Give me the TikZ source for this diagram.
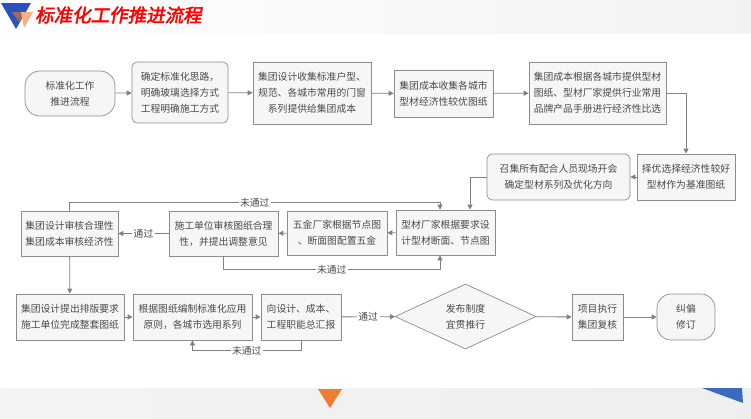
\documentclass[tikz,border=0pt]{standalone}
\usepackage{fontspec}
\newfontfamily\cjk{Noto Sans CJK SC}
\newfontfamily\cjktitle[FakeBold=2.5,FakeSlant=0.18]{Noto Sans CJK SC}
\usetikzlibrary{positioning, arrows.meta, calc, shapes.geometric}
\definecolor{boxline}{HTML}{8C8C8C}
\definecolor{boxfill}{HTML}{F6F6F6}
\definecolor{boxtext}{HTML}{4A4A4A}
\definecolor{lnclr}{HTML}{808080}
\definecolor{logoblue}{HTML}{2A52BE}
\definecolor{logobrown}{HTML}{9B6B5A}
\definecolor{logopeach}{HTML}{F4B183}
\definecolor{accorange}{HTML}{ED7D31}
\definecolor{accblue}{HTML}{3A6BC0}

\begin{document}
\begin{tikzpicture}[x=1pt, y=-1pt,
  font=\cjk\fontsize{9.8}{16}\selectfont,
  stepbox/.style={draw=boxline, fill=boxfill, text=boxtext, align=center,
    inner sep=2pt, line width=0.7pt},
  softbox/.style={stepbox, rounded corners=5pt},
  endbox/.style={stepbox, rounded corners=15pt},
  decbox/.style={stepbox, diamond, aspect=2.17, inner sep=0pt},
  wh/.style 2 args={minimum width=#1pt, minimum height=#2pt},
  ln/.style={draw=lnclr, line width=0.8pt, -{Triangle[length=5pt, width=5pt]}},
  lbl/.style={fill=white, text=boxtext, inner sep=1.5pt, font=\cjk\fontsize{9.8}{11}\selectfont}
]
\useasboundingbox (0,0) rectangle (751,418);

% header and footer bands
\shade[left color=white, right color=gray!10] (0,0) rectangle (751,33);
\shade[left color=gray!9, right color=gray!13] (0,388) rectangle (751,418);
\fill[logoblue] (1,3) -- (31,3) -- (16,29) -- cycle;
\fill[logobrown] (12,12) -- (27,12) -- (19,22) -- cycle;
\fill[logopeach] (21,12) -- (33,12) -- (24,28) -- cycle;
\fill[accorange] (318,389) -- (342,389) -- (330,408) -- cycle;
\fill[accblue] (702,388) -- (742,388) -- (743,403) -- cycle;
\node[font=\cjktitle\fontsize{18.5}{20}\selectfont, text=red, anchor=west, inner sep=0pt]
  (title) at (35,15) {标准化工作推进流程};

% first row, left to right
\node[endbox, wh={90}{45}]    (s0) at (70,93.5)    {标准化工作\\推进流程};
\node[softbox, wh={96}{61}]   (s1) at (180,92.5)   {确定标准化思路，\\明确玻璃选择方式\\工程明确施工方式};
\node[stepbox, wh={118}{62}]  (s2) at (312,93)     {集团设计收集标准户型、\\规范、各城市常用的门窗\\系列提供给集团成本};
\node[stepbox, wh={99}{47}]   (s3) at (443.5,93.5) {集团成本收集各城市\\型材经济性较优图纸};
\node[stepbox, wh={137}{62}]  (s4) at (597.5,93)   {集团成本根据各城市提供型材\\图纸、型材厂家提供行业常用\\品牌产品手册进行经济性比选};

% second row, right to left
\node[stepbox, wh={98}{46}]   (s5) at (686,177)    {择优选择经济性较好\\型材作为基准图纸};
\node[softbox, wh={143}{46}]  (s6) at (558.5,177)  {召集所有配合人员现场开会\\确定型材系列及优化方向};
\node[stepbox, wh={99}{45}]   (s7) at (445.5,232.5) {型材厂家根据要求设\\计型材断面、节点图};
\node[stepbox, wh={100}{44}]  (s8) at (337,233)    {五金厂家根据节点图\\、断面图配置五金};
\node[stepbox, wh={109}{45}]  (s9) at (223.5,233.5) {施工单位审核图纸合理\\性，并提出调整意见};
\node[stepbox, wh={97}{45}]   (s10) at (69.5,233.5) {集团设计审核合理性\\集团成本审核经济性};

% third row, left to right
\node[stepbox, wh={108}{46}]  (s11) at (70,317)    {集团设计提出排版要求\\施工单位完成整套图纸};
\node[stepbox, wh={119}{46}]  (s12) at (192.5,317) {根据图纸编制标准化应用\\原则，各城市选用系列};
\node[stepbox, wh={80}{46}]   (s13) at (301,317)   {向设计、成本、\\工程职能总汇报};
\node[decbox, wh={141}{65}]   (s14) at (465.5,316.5) {发布制度\\宜贯推行};
\node[stepbox, wh={51}{46}]   (s15) at (597.5,317) {项目执行\\集团复核};
\node[endbox, rounded corners=14pt, wh={58}{46}] (s16) at (686,317) {纠偏\\修订};

% connectors
\draw[ln] (s0) -- (s1);
\draw[ln] (s1) -- (s2);
\draw[ln] (s2) -- (s3);
\draw[ln] (s3) -- (s4);
\draw[ln] (s4.east) -| (s5.north);
\draw[ln] (s5) -- (s6);
\draw[ln] (s6.west) -| ($(s7.north)+(24.5,0)$);
\draw[ln] (s7) -- (s8);
\draw[ln] (s8) -- (s9);
\draw[ln] (s9) -- node[lbl] {通过} (s10);
\draw[ln] (s10.north) -- ++(0,-8) -| node[lbl, pos=0.25] {未通过} ($(s7.north)+(-5.5,0)$);
\draw[ln] (s9.south) -- ++(0,13) -| node[lbl, pos=0.25] {未通过} ($(s7.south)+(-5.5,0)$);
\draw[ln] (s10) -- (s11);
\draw[ln] (s11) -- (s12);
\draw[ln] (s12) -- (s13);
\draw[ln] (s13.south) -- ++(0,10) -| node[lbl, pos=0.25] {未通过} (s12.south);
\draw[ln] (s13) -- node[lbl] {通过} (s14);
\draw[ln] (s14) -- (s15);
\draw[ln] (s15) -- (s16);

\end{tikzpicture}
\end{document}
